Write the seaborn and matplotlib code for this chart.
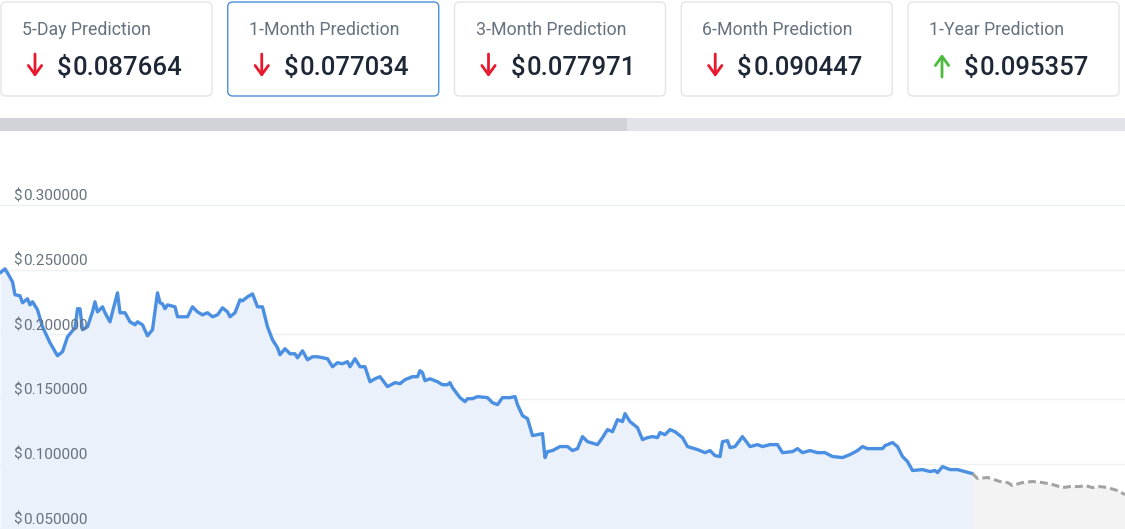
import matplotlib
matplotlib.use("Agg")
import matplotlib.pyplot as plt
from matplotlib.patches import FancyBboxPatch, Rectangle
import numpy as np
import pandas as pd
import seaborn as sns

# ---- data -------------------------------------------------------------
card_titles = ["5-Day Prediction", "1-Month Prediction", "3-Month Prediction",
               "6-Month Prediction", "1-Year Prediction"]
card_values = ["0.087664", "0.077034", "0.077971", "0.090447", "0.095357"]
card_up = [False, False, False, False, True]
selected_card = 1

ytick_values = [0.05, 0.10, 0.15, 0.20, 0.25, 0.30]

hist_day = [0, 2, 3, 5, 6, 8, 9, 11, 12, 13, 15, 17, 20, 23, 25, 27, 30, 31, 32, 33,
            35, 37, 38, 39, 41, 42, 44, 45, 47, 48, 50, 52, 54, 55, 57, 59, 61, 63, 64, 65,
            66, 67, 70, 71, 75, 77, 79, 81, 83, 85, 87, 89, 91, 92, 94, 96, 97, 99, 101, 103,
            105, 107, 109, 111, 112, 114, 116, 118, 119, 121, 123, 125, 127, 131, 133, 135, 137, 139, 140, 142,
            144, 146, 148, 150, 152, 155, 158, 160, 162, 165, 167, 168, 169, 170, 172, 175, 177, 179, 180, 181,
            184, 186, 187, 189, 191, 195, 197, 199, 201, 204, 206, 207, 209, 211, 213, 217, 218, 219, 221, 224,
            227, 229, 231, 233, 235, 239, 241, 243, 245, 247, 249, 250, 252, 255, 257, 259, 261, 263, 264, 266,
            268, 270, 273, 275, 279, 282, 284, 286, 288, 289, 291, 292, 294, 297, 300, 303, 305, 308, 311, 313,
            317, 319, 321, 324, 327, 330, 333, 337, 340, 343, 345, 347, 350, 353, 354, 357, 359, 361, 363, 365,
            369, 372, 374, 375, 377, 380, 383, 389]
hist_price = [0.2475, 0.2506, 0.2475, 0.2406, 0.2306, 0.2298, 0.2244, 0.2275, 0.2228, 0.2252,
              0.2190, 0.2059, 0.1935, 0.1835, 0.1866, 0.1981, 0.2051, 0.2198, 0.2198, 0.2036,
              0.2059, 0.2174, 0.2252, 0.2174, 0.2213, 0.2167, 0.2097, 0.2174, 0.2321, 0.2167,
              0.2167, 0.2097, 0.2074, 0.2097, 0.2074, 0.1989, 0.2036, 0.2321, 0.2244, 0.2236,
              0.2198, 0.2228, 0.2213, 0.2136, 0.2136, 0.2213, 0.2174, 0.2151, 0.2167, 0.2136,
              0.2151, 0.2205, 0.2174, 0.2136, 0.2167, 0.2267, 0.2259, 0.2290, 0.2313, 0.2213,
              0.2213, 0.2059, 0.1958, 0.1897, 0.1843, 0.1889, 0.1850, 0.1850, 0.1819, 0.1873,
              0.1804, 0.1827, 0.1827, 0.1812, 0.1750, 0.1781, 0.1773, 0.1789, 0.1750, 0.1812,
              0.1750, 0.1750, 0.1634, 0.1657, 0.1673, 0.1596, 0.1627, 0.1619, 0.1650, 0.1673,
              0.1673, 0.1719, 0.1704, 0.1642, 0.1657, 0.1634, 0.1611, 0.1611, 0.1627, 0.1588,
              0.1511, 0.1480, 0.1503, 0.1503, 0.1519, 0.1511, 0.1472, 0.1457, 0.1511, 0.1511,
              0.1519, 0.1457, 0.1372, 0.1349, 0.1218, 0.1233, 0.1048, 0.1094, 0.1102, 0.1133,
              0.1133, 0.1102, 0.1117, 0.1210, 0.1171, 0.1148, 0.1202, 0.1264, 0.1248, 0.1341,
              0.1326, 0.1387, 0.1326, 0.1279, 0.1187, 0.1202, 0.1210, 0.1202, 0.1241, 0.1225,
              0.1264, 0.1248, 0.1202, 0.1133, 0.1110, 0.1086, 0.1102, 0.1063, 0.1056, 0.1171,
              0.1179, 0.1125, 0.1133, 0.1210, 0.1133, 0.1148, 0.1133, 0.1148, 0.1148, 0.1086,
              0.1094, 0.1117, 0.1086, 0.1102, 0.1086, 0.1086, 0.1056, 0.1048, 0.1071, 0.1102,
              0.1133, 0.1117, 0.1117, 0.1117, 0.1140, 0.1164, 0.1133, 0.1056, 0.1017, 0.0948,
              0.0955, 0.0940, 0.0948, 0.0932, 0.0978, 0.0955, 0.0955, 0.0924]

fc_day = [389, 391, 395, 400, 403, 405, 409, 413, 417, 421, 425, 428, 432, 434, 437, 440,
          443, 447, 450]
fc_price = [0.0924, 0.0886, 0.0894, 0.0863, 0.0855, 0.0832, 0.0855, 0.0863, 0.0855, 0.0840,
            0.0816, 0.0824, 0.0824, 0.0832, 0.0816, 0.0824, 0.0816, 0.0793, 0.0762]

# ---- style ------------------------------------------------------------
sns.set_theme(style="white")
plt.rcParams["font.family"] = ["Roboto", "DejaVu Sans"]

LINE_BLUE = "#4a8fe2"
FILL_BLUE = "#eaf1fb"
FC_GRAY = "#a3a3a3"
FC_FILL = "#f3f3f3"
LABEL_GRAY = "#66727f"
TITLE_GRAY = "#66727f"
VALUE_DARK = "#1e2736"
DOWN_RED = "#e8182f"
UP_GREEN = "#4cbb3c"

W, H = 1125, 529
fig = plt.figure(figsize=(W / 100, H / 100), dpi=100)

# ---- main chart -------------------------------------------------------
ax = fig.add_axes([0, 0, 1, 389 / H])
hist = pd.DataFrame({"day": hist_day, "price": hist_price})
fc = pd.DataFrame({"day": fc_day, "price": fc_price})

ax.fill_between(hist["day"], hist["price"], 0, color=FILL_BLUE, lw=0, zorder=1)
ax.fill_between(fc["day"], fc["price"], 0, color=FC_FILL, lw=0, zorder=1)
for v in ytick_values:
    ax.axhline(v, color="#eff0f3", lw=1, zorder=0.5)
sns.lineplot(data=hist, x="day", y="price", ax=ax, color=LINE_BLUE, lw=2.4, zorder=3)
sns.lineplot(data=fc, x="day", y="price", ax=ax, color=FC_GRAY, lw=2.2, zorder=3,
             dashes=False, linestyle=(0, (2.6, 1.3)))

ax.set_xlim(0, 450)
ax.set_ylim(0.0496, 0.3502)
ax.set_xticks([])
ax.set_yticks([])
ax.set_xlabel("")
ax.set_ylabel("")
for s in ax.spines.values():
    s.set_visible(False)
ax.set_facecolor("none")

# tick labels sit just above their gridline, "$" set a little apart
for v in ytick_values:
    ax.annotate("$", xy=(13 / W, v), xycoords=("axes fraction", "data"),
                xytext=(0, 3.5), textcoords="offset points", fontsize=11,
                color=LABEL_GRAY, va="baseline", ha="left", zorder=4)
    ax.annotate(f"{v:.6f}", xy=(23 / W, v), xycoords=("axes fraction", "data"),
                xytext=(0, 3.5), textcoords="offset points", fontsize=11,
                color=LABEL_GRAY, va="baseline", ha="left", zorder=4)

# ---- prediction cards ------------------------------------------------
top = fig.add_axes([0, 0, 1, 1], zorder=5)
top.set_xlim(0, W)
top.set_ylim(H, 0)
top.axis("off")
top.patch.set_visible(False)

# progress bar
top.add_patch(Rectangle((0, 118), W, 13, color="#e2e3e8", lw=0))
top.add_patch(Rectangle((0, 118), 627, 13, color="#d1d3d8", lw=0))

for i, (title, val, up) in enumerate(zip(card_titles, card_values, card_up)):
    x0 = 1 + i * 226.75
    edge = "#4a8fd9" if i == selected_card else "#e3e5ea"
    top.add_patch(FancyBboxPatch((x0, 2), 211, 94, boxstyle="round,pad=0,rounding_size=5",
                                 fc="white", ec=edge, lw=1))
    top.text(x0 + 21, 35, title, fontsize=12.8, color=TITLE_GRAY, va="baseline", ha="left")
    top.text(x0 + 56, 75, "$", fontsize=18.5, color=VALUE_DARK,
             fontweight="medium", va="baseline", ha="left")
    top.text(x0 + 72, 75, val, fontsize=18.5, color=VALUE_DARK,
             fontweight="medium", va="baseline", ha="left")
    ax_col = UP_GREEN if up else DOWN_RED
    y_tail, y_head = (54, 77) if not up else (77, 54)
    top.annotate("", xy=(x0 + 34, y_head), xytext=(x0 + 34, y_tail),
                 arrowprops=dict(arrowstyle="->,head_length=0.55,head_width=0.4",
                                 color=ax_col, lw=2, shrinkA=0, shrinkB=0))

fig.savefig("out.png", dpi=100)
